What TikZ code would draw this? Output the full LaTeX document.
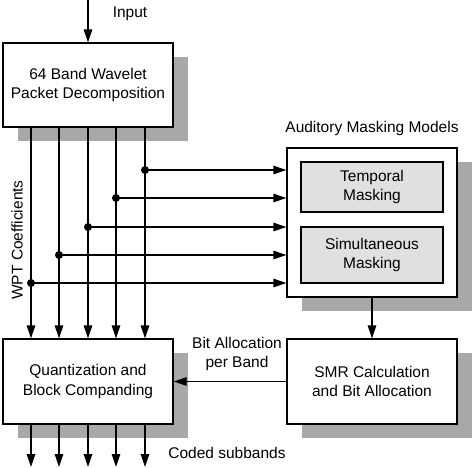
\documentclass[tikz,border=0pt]{standalone}
\usepackage{fontspec}
\setmainfont{Liberation Sans}
\usetikzlibrary{arrows.meta,shadows,positioning}

\tikzset{
  block/.style={draw, fill=white, line width=1.3pt, align=center, inner sep=0pt,
    drop shadow={shadow xshift=15pt, shadow yshift=-14pt, fill=black!34, opacity=1}},
  subblock/.style={draw, fill=black!12, line width=1.3pt, align=center, minimum width=142pt},
  sig/.style={line width=1.3pt, -{Triangle[length=13pt,width=8.5pt]}},
  tap/.style={circle, fill=black, inner sep=0pt, minimum size=8pt},
}

\begin{document}
\begin{tikzpicture}[x=1pt, y=-1pt, font=\fontsize{15.5}{19.5}\selectfont]
\useasboundingbox (0,0) rectangle (474,467);

\node[block, minimum width=170pt, minimum height=84pt] (wpd) at (88,85) {64 Band Wavelet\\Packet Decomposition};
\node[block, minimum width=170pt, minimum height=85pt] (quant) at (88,381.5) {Quantization and\\Block Companding};
\node[block, minimum width=170pt, minimum height=85pt] (smr) at (372,381.5) {SMR Calculation\\and Bit Allocation};
\node[block, minimum width=170pt, minimum height=149pt] (amm) at (372,222.5) {};
\node[subblock, minimum height=50pt] (temporal) at (372,187) {Temporal\\Masking};
\node[subblock, minimum height=56pt] (simult) at (372,255) {Simultaneous\\Masking};

\node (input) at (130,14) {Input};
\node (models) at (372,128) {Auditory Masking Models};
\node[align=center] (bitalloc) at (237,354) {Bit Allocation\\per Band};
\node (coded) at (227,453) {Coded subbands};
\node[rotate=90] (wpt) at (17,240) {WPT Coefficients};

\coordinate (in) at (88,0);
\draw[sig] (in) -- (wpd.north);

\foreach \i/\x/\y in {1/31/283, 2/59/255, 3/88/227, 4/116/198, 5/145/170} {
  \coordinate (t\i) at (\x,\y);
  \coordinate (o\i) at (\x,467);
  \draw[sig] (wpd.south -| t\i) -- (quant.north -| t\i);
  \draw[sig] (t\i) -- (t\i -| amm.west);
  \node[tap] at (t\i) {};
  \draw[sig] (quant.south -| t\i) -- (o\i);
}

\draw[sig] (amm.south) -- (smr.north);
\draw[sig] (smr.west) -- (quant.east);
\end{tikzpicture}
\end{document}
